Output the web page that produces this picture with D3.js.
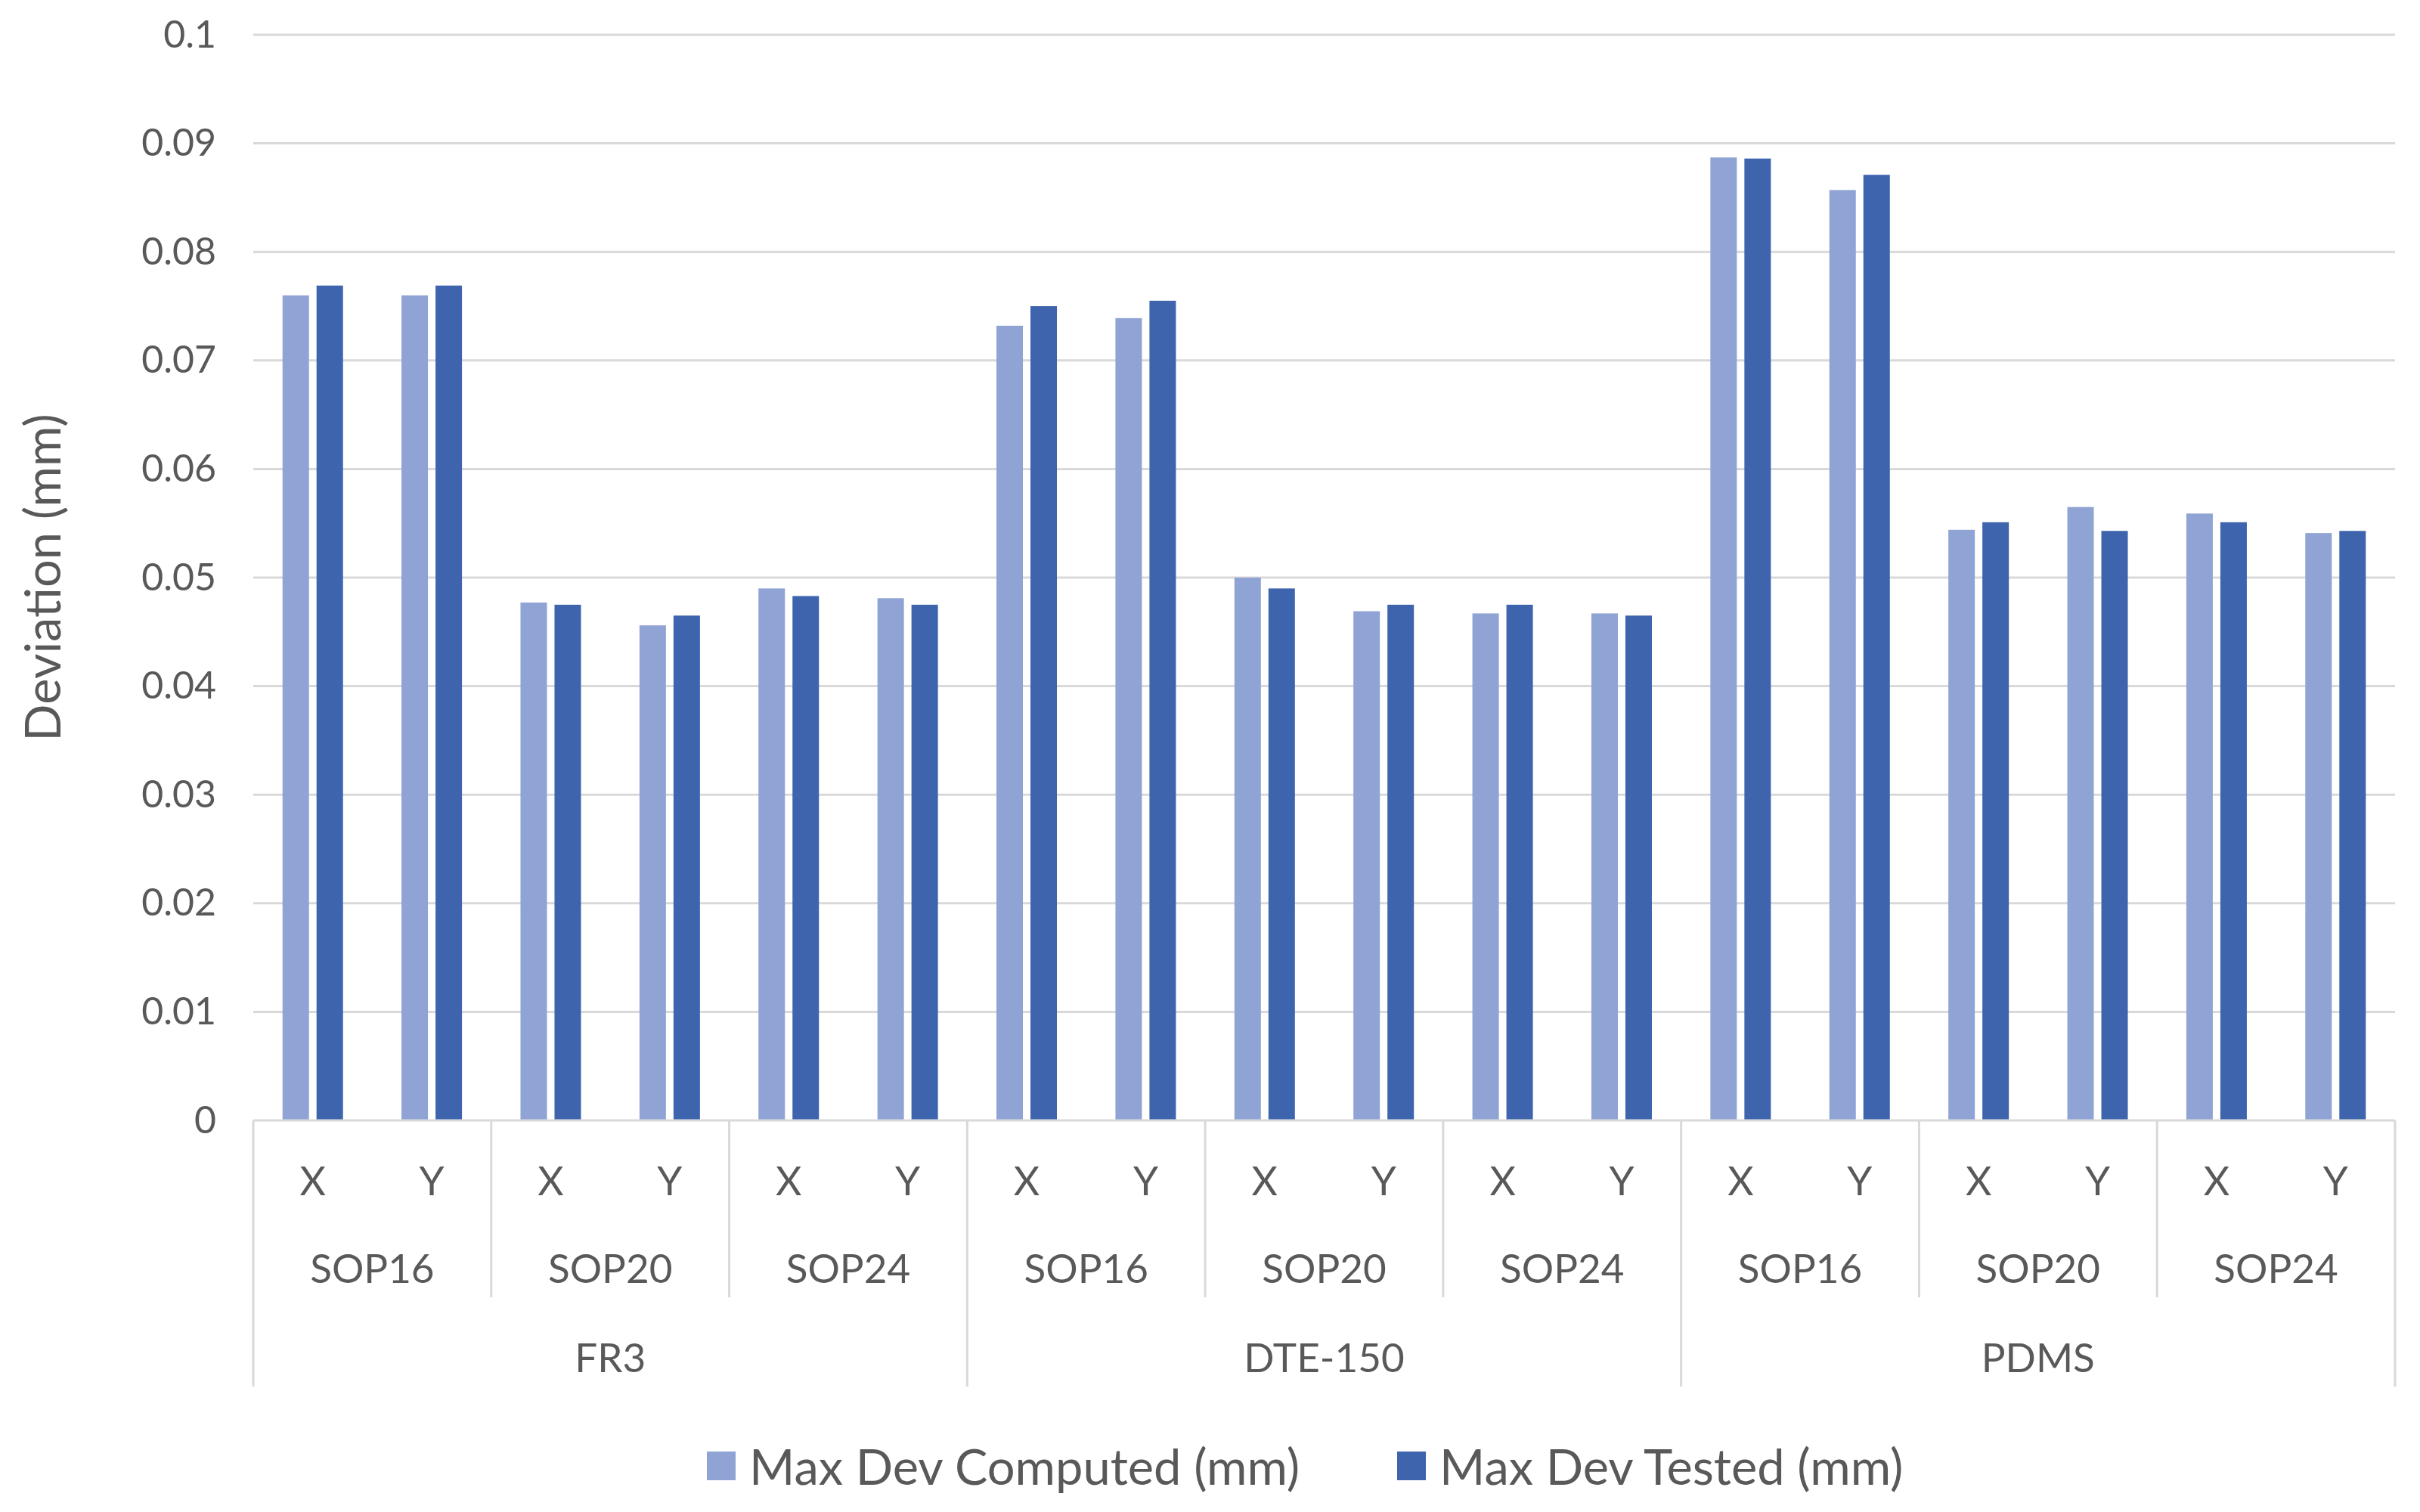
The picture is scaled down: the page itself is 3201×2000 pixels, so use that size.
<!DOCTYPE html>
<html>
<head>
<meta charset="utf-8">
<script src="https://cdn.jsdelivr.net/npm/d3@7/dist/d3.min.js"></script>
<style>
  html, body { margin: 0; padding: 0; background: #ffffff; }
  svg { display: block; }
  text { font-family: Lato, "Open Sans", "Noto Sans", sans-serif; fill: #595959; }
</style>
</head>
<body>
<svg id="chart" width="3201" height="2000"></svg>
<script>
// ---- data ----
const materials = ["FR3", "DTE-150", "PDMS"];
const packages = ["SOP16", "SOP20", "SOP24"];
const directions = ["X", "Y"];
const seriesNames = ["Max Dev Computed (mm)", "Max Dev Tested (mm)"];
const computed = [0.0760, 0.0760, 0.0477, 0.0456, 0.0490, 0.0481,
                  0.0732, 0.0739, 0.0500, 0.0469, 0.0467, 0.0467,
                  0.0887, 0.0857, 0.0544, 0.0565, 0.0559, 0.0541];
const tested   = [0.0769, 0.0769, 0.0475, 0.0465, 0.0483, 0.0475,
                  0.0750, 0.0755, 0.0490, 0.0475, 0.0475, 0.0465,
                  0.0886, 0.0871, 0.0551, 0.0543, 0.0551, 0.0543];
const yTicks = [0, 0.01, 0.02, 0.03, 0.04, 0.05, 0.06, 0.07, 0.08, 0.09, 0.1];
const yTickLabels = ["0", "0.01", "0.02", "0.03", "0.04", "0.05", "0.06", "0.07", "0.08", "0.09", "0.1"];

(function () {
// build category table
const rows = [];
materials.forEach((m, mi) => packages.forEach((p, pi) => directions.forEach((d, di) => {
  const i = rows.length;
  rows.push({ id: m + "|" + p + "|" + d, material: m, pkg: p, dir: d, values: [computed[i], tested[i]] });
})));

const colors = ["#8FA3D4", "#3D64AD"];
const gridColor = "#D9D9D9";

const svg = d3.select("#chart");
const plotLeft = 335, plotRight = 3168, plotTop = 46, plotBase = 1482;

const x0 = d3.scaleBand().domain(rows.map(r => r.id)).range([plotLeft, plotRight]).paddingInner(0).paddingOuter(0);
const bw0 = x0.bandwidth();
const x1 = d3.scaleBand().domain([0, 1]).range([bw0 / 2 - 40, bw0 / 2 + 40]).paddingInner(10 / 45);
const y = d3.scaleLinear().domain([0, 0.1]).range([plotBase, plotTop]);

// gridlines
svg.append("g").selectAll("line").data(yTicks.filter(t => t > 0)).join("line")
  .attr("x1", plotLeft).attr("x2", plotRight)
  .attr("y1", d => y(d)).attr("y2", d => y(d))
  .attr("stroke", gridColor).attr("stroke-width", 3);

// y axis labels
const yAxis = d3.axisLeft(y).tickValues(yTicks).tickFormat((d, i) => yTickLabels[i]).tickSize(0).tickPadding(0);
const gy = svg.append("g").attr("transform", "translate(286,0)").call(yAxis);
gy.select(".domain").remove();
gy.selectAll("text").attr("font-size", 50).attr("fill", "#595959")
  .style("font-family", "Lato, 'Open Sans', sans-serif");

// bars
const groups = svg.append("g").selectAll("g").data(rows).join("g")
  .attr("transform", d => `translate(${x0(d.id)},0)`);
groups.selectAll("rect").data(d => d.values.map((v, k) => ({ v, k }))).join("rect")
  .attr("x", d => x1(d.k)).attr("width", x1.bandwidth())
  .attr("y", d => y(d.v)).attr("height", d => y(0) - y(d.v))
  .attr("fill", d => colors[d.k]);

// category axis baseline
svg.append("line").attr("x1", plotLeft).attr("x2", plotRight).attr("y1", plotBase).attr("y2", plotBase)
  .attr("stroke", gridColor).attr("stroke-width", 3);

// level 1 labels (X/Y)
svg.append("g").selectAll("text").data(rows).join("text")
  .attr("x", d => x0(d.id) + bw0 / 2).attr("y", 1560)
  .attr("text-anchor", "middle").attr("dominant-baseline", "central")
  .attr("font-size", 53).text(d => d.dir);

// level 2 (packages)
const pkgGroups = [];
materials.forEach(m => packages.forEach(p => {
  const ids = rows.filter(r => r.material === m && r.pkg === p).map(r => r.id);
  pkgGroups.push({ label: p, x0: x0(ids[0]), x1: x0(ids[ids.length - 1]) + bw0 });
}));
svg.append("g").selectAll("text").data(pkgGroups).join("text")
  .attr("x", d => (d.x0 + d.x1) / 2).attr("y", 1676)
  .attr("text-anchor", "middle").attr("dominant-baseline", "central")
  .attr("font-size", 53).text(d => d.label);

// level 3 (materials)
const matGroups = materials.map(m => {
  const ids = rows.filter(r => r.material === m).map(r => r.id);
  return { label: m, x0: x0(ids[0]), x1: x0(ids[ids.length - 1]) + bw0 };
});
svg.append("g").selectAll("text").data(matGroups).join("text")
  .attr("x", d => (d.x0 + d.x1) / 2).attr("y", 1794)
  .attr("text-anchor", "middle").attr("dominant-baseline", "central")
  .attr("font-size", 53).text(d => d.label);

// separators
const shortSeps = pkgGroups.slice(1).map(g => g.x0).filter(xv => !matGroups.some(mg => Math.abs(mg.x0 - xv) < 1));
const longSeps = matGroups.map(g => g.x0).concat([matGroups[matGroups.length - 1].x1]);
svg.append("g").selectAll("line").data(shortSeps).join("line")
  .attr("x1", d => d).attr("x2", d => d).attr("y1", plotBase).attr("y2", 1716)
  .attr("stroke", gridColor).attr("stroke-width", 3);
svg.append("g").selectAll("line").data(longSeps).join("line")
  .attr("x1", d => d).attr("x2", d => d).attr("y1", plotBase).attr("y2", 1834)
  .attr("stroke", gridColor).attr("stroke-width", 3);

// y axis title
svg.append("text").attr("transform", "translate(55,764) rotate(-90)")
  .attr("text-anchor", "middle").attr("dominant-baseline", "central")
  .attr("font-size", 65).text("Deviation (mm)");

// legend
const legendX = [935, 1848];
const lg = svg.append("g").selectAll("g").data(seriesNames).join("g")
  .attr("transform", (d, i) => `translate(${legendX[i]},1920)`);
lg.append("rect").attr("width", 38).attr("height", 38).attr("fill", (d, i) => colors[i]);
lg.append("text").attr("x", 56).attr("y", 19).attr("dominant-baseline", "central")
  .attr("font-size", 65).text(d => d);
})();
</script>
</body>
</html>
